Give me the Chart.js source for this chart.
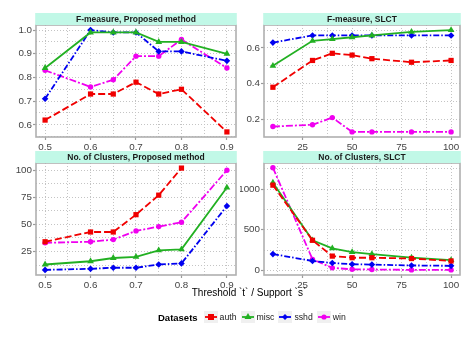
<!DOCTYPE html>
<html lang="en">
<head>
<meta charset="UTF-8">
<title>F-measure and No. of Clusters</title>
<script src="https://cdn.jsdelivr.net/npm/chart.js"></script>
<style>
    body { margin: 0; background: #fff; font-family: "Liberation Sans", Arial, sans-serif; }
    #wrap { position: relative; width: 474px; height: 342px; overflow: hidden; }
    canvas.panel { position: absolute; }
    #xtitle { position: absolute; left: 0; width: 498px; top: 287px; text-align: center; font-size: 10px; color: #000; }
    #legend { position: absolute; left: 158px; top: 311px; display: flex; align-items: center; font-size: 8.7px; color: #1a1a1a; }
    #legend b { font-size: 9.5px; margin-right: 6px; color: #000; }
    #legend canvas { margin-right: 2px; }
    #legend span { margin-right: 4px; }
</style>
</head>
<body>
<div id="wrap">
    <canvas class="panel" id="c1" width="240" height="150" style="left:0;top:0"></canvas>
    <canvas class="panel" id="c2" width="230" height="150" style="left:240px;top:0"></canvas>
    <canvas class="panel" id="c3" width="240" height="148" style="left:0;top:140px"></canvas>
    <canvas class="panel" id="c4" width="230" height="148" style="left:240px;top:140px"></canvas>
    <div id="xtitle">Threshold `t` / Support `s`</div>
    <div id="legend"><b>Datasets</b></div>
</div>

<script>
    // x values
    const propX = [0.5, 0.6, 0.65, 0.7, 0.75, 0.8, 0.9];
    const slctX = [10, 30, 40, 50, 60, 80, 100];

    // F-measure, Proposed method
    const fpAuth = [0.62, 0.73, 0.73, 0.78, 0.73, 0.75, 0.57];
    const fpMisc = [0.84, 0.99, 0.99, 0.99, 0.95, 0.95, 0.90];
    const fpSshd = [0.71, 1.00, 0.99, 0.99, 0.91, 0.91, 0.87];
    const fpWin  = [0.83, 0.76, 0.79, 0.89, 0.89, 0.96, 0.84];

    // F-measure, SLCT
    const fsAuth = [0.38, 0.53, 0.57, 0.56, 0.54, 0.52, 0.53];
    const fsMisc = [0.50, 0.64, 0.65, 0.66, 0.67, 0.69, 0.70];
    const fsSshd = [0.63, 0.67, 0.67, 0.67, 0.67, 0.67, 0.67];
    const fsWin  = [0.16, 0.17, 0.21, 0.13, 0.13, 0.13, 0.13];

    // No. of Clusters, Proposed method
    const cpAuth = [34, 43, 43, 59, 77, 102, null];
    const cpMisc = [13, 16, 19, 20, 26, 27, 84];
    const cpSshd = [8, 9, 10, 10, 13, 14, 67];
    const cpWin  = [33, 34, 36, 44, 48, 52, 100];

    // No. of Clusters, SLCT
    const csAuth = [1050, 370, 175, 155, 155, 145, 115];
    const csMisc = [1080, 370, 270, 225, 200, 155, 125];
    const csSshd = [200, 115, 90, 75, 70, 60, 55];
    const csWin  = [1265, 135, 30, 12, 10, 5, 5];

    // tick values and labels
    const propTicks = [0.5, 0.6, 0.7, 0.8, 0.9];
    const propLabels = ['0.5', '0.6', '0.7', '0.8', '0.9'];
    const slctTicks = [25, 50, 75, 100];
    const slctLabels = ['25', '50', '75', '100'];
    const fpTicks = [0.6, 0.7, 0.8, 0.9, 1.0];
    const fpLabels = ['0.6', '0.7', '0.8', '0.9', '1.0'];
    const fsTicks = [0.2, 0.4, 0.6];
    const fsLabels = ['0.2', '0.4', '0.6'];
    const cpTicks = [25, 50, 75, 100];
    const cpLabels = ['25', '50', '75', '100'];
    const csTicks = [0, 500, 1000];
    const csLabels = ['0', '500', '1000'];

    const seriesNames = ['auth', 'misc', 'sshd', 'win'];
    const styles = {
        auth: { color: '#f00000', dash: [7, 3], point: 'rect', r: 3.7 },
        misc: { color: '#22b022', dash: [], point: 'triangle', r: 3.9 },
        sshd: { color: '#0000f0', dash: [6, 2, 1.5, 2], point: 'rectRot', r: 3.3 },
        win:  { color: '#f000f0', dash: [7, 2, 2, 2], point: 'circle', r: 2.7 }
    };

    const gridColor = '#c4c4c4';
    const tickColor = '#444444';

    // majors plus half-way minors inside the range
    function gridValues(major, min, max) {
        const step = (major[1] - major[0]) / 2;
        const out = [];
        let v = major[0];
        while (v - step >= min) v -= step;
        for (; v <= max + 1e-9; v += step) out.push(+v.toFixed(6));
        return out;
    }

    function labelFor(major, labels, v) {
        for (let i = 0; i < major.length; i++) {
            if (Math.abs(major[i] - v) < 1e-6) return labels[i];
        }
        return '';
    }

    function makeAxis(pos, min, max, major, labels, size) {
        return {
            type: 'linear',
            position: pos,
            min: min,
            max: max,
            afterBuildTicks: s => { s.ticks = gridValues(major, min, max).map(v => ({ value: v })); },
            afterFit: s => { if (pos === 'left') s.width = size; else s.height = size; },
            border: { display: false, dash: [1, 2] },
            grid: {
                color: gridColor,
                lineWidth: 1,
                borderDash: [1, 2],
                drawTicks: true,
                tickLength: 3,
                tickWidth: 1.2,
                tickBorderDash: [],
                tickColor: c => labelFor(major, labels, c.tick.value) ? '#9a9a9a' : 'rgba(0,0,0,0)'
            },
            ticks: {
                autoSkip: false,
                maxRotation: 0,
                padding: 1,
                color: tickColor,
                font: { family: '"Liberation Sans", Arial, sans-serif', size: 9.8 },
                callback: v => labelFor(major, labels, v)
            }
        };
    }

    const panelDeco = {
        id: 'panelDeco',
        beforeDatasetsDraw(chart) {
            const { ctx, chartArea: a } = chart;
            ctx.save();
            ctx.strokeStyle = '#b0b0b0';
            ctx.lineWidth = 1.6;
            ctx.strokeRect(a.left, a.top, a.right - a.left, a.bottom - a.top);
            ctx.restore();
        },
        afterDraw(chart, args, opts) {
            const { ctx, chartArea: a } = chart;
            ctx.save();
            ctx.fillStyle = '#c1f8e7';
            ctx.fillRect(a.left - 0.8, a.top - 12, a.right - a.left + 1.6, 12);
            ctx.fillStyle = '#1a1a1a';
            ctx.font = 'bold 8.5px "Liberation Sans", Arial, sans-serif';
            ctx.textAlign = 'center';
            ctx.textBaseline = 'middle';
            ctx.fillText(opts.title, (a.left + a.right) / 2, a.top - 5.5);
            ctx.restore();
        }
    };

    function makeDatasets(xs, values) {
        return seriesNames.map((name, i) => {
            const st = styles[name];
            return {
                label: name,
                data: xs.map((x, j) => ({ x: x, y: values[i][j] })),
                borderColor: st.color,
                backgroundColor: st.color,
                borderWidth: 1.8,
                borderDash: st.dash,
                pointStyle: st.point,
                pointRadius: st.r,
                pointBorderWidth: 0,
                tension: 0,
                spanGaps: false
            };
        });
    }

    function makePanel(id, title, xs, values, xAxis, yAxis, pad) {
        const ctx = document.getElementById(id).getContext('2d');
        new Chart(ctx, {
            type: 'line',
            data: { datasets: makeDatasets(xs, values) },
            options: {
                responsive: false,
                animation: false,
                layout: { padding: pad },
                plugins: {
                    legend: { display: false },
                    tooltip: { enabled: false },
                    panelDeco: { title: title }
                },
                scales: { x: xAxis, y: yAxis }
            },
            plugins: [panelDeco]
        });
    }

    makePanel('c1', 'F-measure, Proposed method', propX, [fpAuth, fpMisc, fpSshd, fpWin],
        makeAxis('bottom', 0.48, 0.92, propTicks, propLabels, 13),
        makeAxis('left', 0.5485, 1.0215, fpTicks, fpLabels, 36),
        { left: 0, top: 25, right: 3, bottom: 0 });

    makePanel('c2', 'F-measure, SLCT', slctX, [fsAuth, fsMisc, fsSshd, fsWin],
        makeAxis('bottom', 5.5, 104.5, slctTicks, slctLabels, 13),
        makeAxis('left', 0.1015, 0.7285, fsTicks, fsLabels, 24),
        { left: 0, top: 25, right: 10, bottom: 0 });

    makePanel('c3', 'No. of Clusters, Proposed method', propX, [cpAuth, cpMisc, cpSshd, cpWin],
        makeAxis('bottom', 0.48, 0.92, propTicks, propLabels, 13),
        makeAxis('left', 3.3, 106.7, cpTicks, cpLabels, 36),
        { left: 0, top: 23, right: 3, bottom: 0 });

    makePanel('c4', 'No. of Clusters, SLCT', slctX, [csAuth, csMisc, csSshd, csWin],
        makeAxis('bottom', 5.5, 104.5, slctTicks, slctLabels, 13),
        makeAxis('left', -58, 1323, csTicks, csLabels, 24),
        { left: 0, top: 23, right: 10, bottom: 0 });

    // legend keys
    const legend = document.getElementById('legend');
    seriesNames.forEach(name => {
        const st = styles[name];
        const key = document.createElement('canvas');
        key.width = 14; key.height = 12;
        const k = key.getContext('2d');
        k.fillStyle = '#f0f0f0';
        k.fillRect(0, 0, 14, 12);
        k.strokeStyle = st.color;
        k.lineWidth = 1.8;
        k.beginPath(); k.moveTo(1, 6); k.lineTo(13, 6); k.stroke();
        k.fillStyle = st.color;
        k.beginPath();
        if (name === 'auth') { k.rect(4, 3, 6, 6); }
        else if (name === 'misc') { k.moveTo(7, 2); k.lineTo(10.5, 8); k.lineTo(3.5, 8); k.closePath(); }
        else if (name === 'sshd') { k.moveTo(7, 3); k.lineTo(10, 6); k.lineTo(7, 9); k.lineTo(4, 6); k.closePath(); }
        else { k.arc(7, 6, 2.6, 0, Math.PI * 2); }
        k.fill();
        legend.appendChild(key);
        const lab = document.createElement('span');
        lab.textContent = name;
        legend.appendChild(lab);
    });
</script>
</body>
</html>
